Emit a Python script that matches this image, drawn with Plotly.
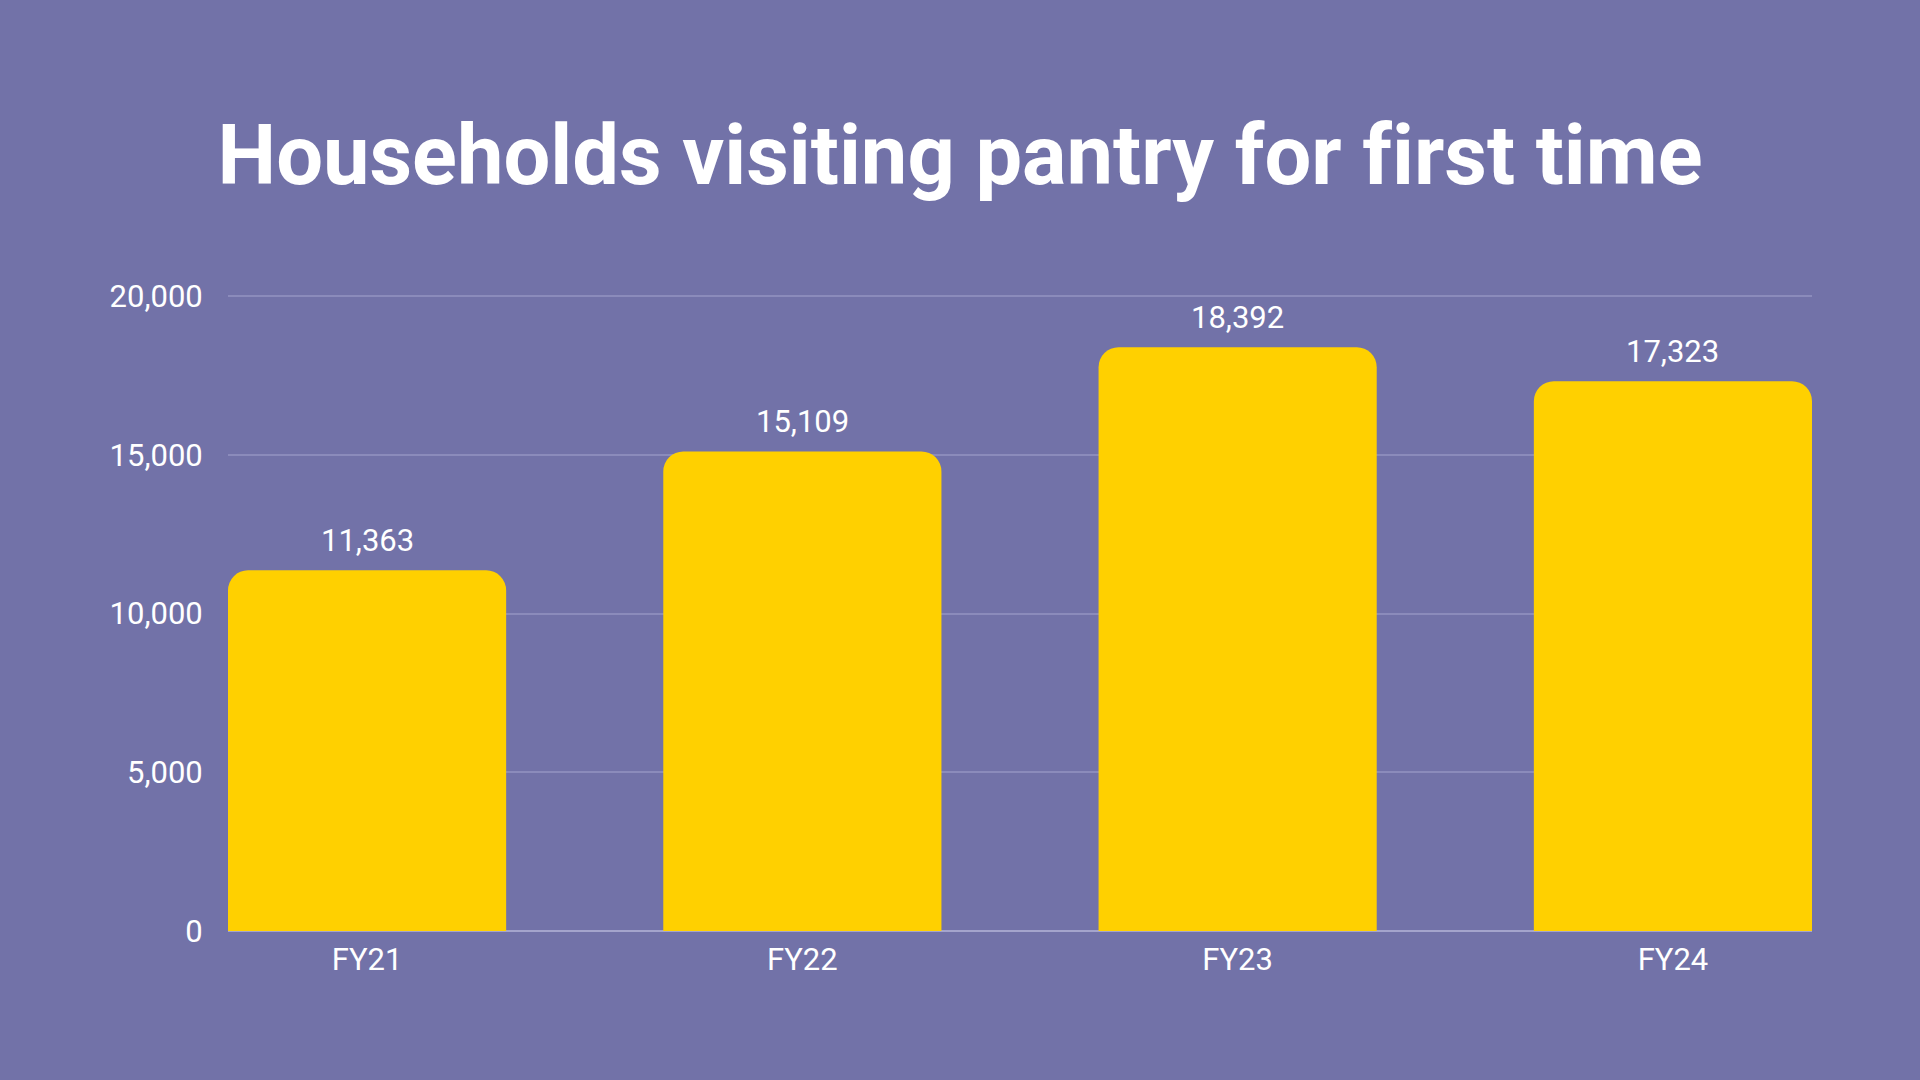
import plotly.graph_objects as go

categories = ["FY21", "FY22", "FY23", "FY24"]
values = [11363, 15109, 18392, 17323]
tick_vals = [0, 5000, 10000, 15000, 20000]
tick_text = ["0", "5,000", "10,000", "15,000", "20,000"]
title_text = "Households visiting pantry for f\u200cirst time"

BG = "#7272A8"
BAR = "#FFD000"

fig = go.Figure()
fig.add_trace(go.Bar(
    x=categories, y=values, marker=dict(color=BAR, line=dict(width=0)),
    hoverinfo="skip",
))

for c, v in zip(categories, values):
    fig.add_annotation(x=c, y=v, text=f"{v:,}", showarrow=False,
                       yanchor="bottom", yshift=9,
                       font=dict(family="Roboto", size=31, color="white"))

fig.update_layout(
    width=1920, height=1080,
    paper_bgcolor=BG, plot_bgcolor=BG,
    margin=dict(l=228, r=108, t=293, b=149),
    bargap=0.361, barcornerradius=20,
    showlegend=False,
    title=dict(text=f"<b>{title_text}</b>", x=0.5, xanchor="center",
               y=1 - 184 / 1080, yanchor="bottom",
               font=dict(family="Roboto", size=83, color="white")),
    xaxis=dict(showgrid=False, showline=False, zeroline=False,
               range=[-0.3195, 3.3195],
               tickfont=dict(family="Roboto", size=31, color="white"),
               ticks="outside", ticklen=1, tickcolor="rgba(0,0,0,0)"),
    yaxis=dict(range=[0, 20100], tickvals=tick_vals, ticktext=tick_text,
               showgrid=True, gridcolor="#8B8BBB", gridwidth=1.5,
               zeroline=True, zerolinecolor="#A4A4CC", zerolinewidth=2,
               tickfont=dict(family="Roboto", size=31, color="white"),
               ticks="outside", ticklen=18, tickcolor="rgba(0,0,0,0)"),
)

fig.write_html("out.html", config={"displayModeBar": False},
               post_script="document.body.style.margin='0';")
